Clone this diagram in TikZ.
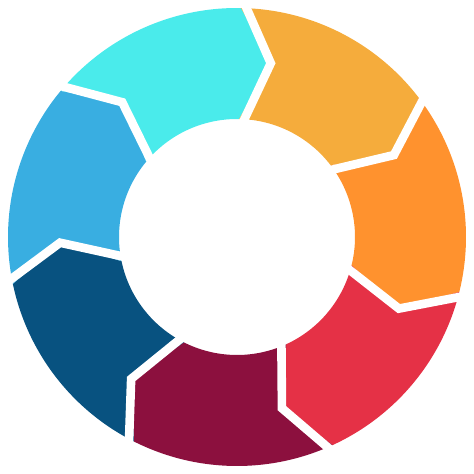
\documentclass[tikz,border=0pt]{standalone}
\usepackage{tikz}
\definecolor{cyanseg}{HTML}{4AEBEB}
\definecolor{yellowseg}{HTML}{F5AC3C}
\definecolor{orangeseg}{HTML}{FF922E}
\definecolor{redseg}{HTML}{E53146}
\definecolor{maroonseg}{HTML}{8C103E}
\definecolor{navyseg}{HTML}{085280}
\definecolor{blueseg}{HTML}{39AEE1}
\tikzset{gap/.style={draw=white,line width=4.9pt,line join=miter,miter limit=10}}
\def\ringout{229}
\def\ringin{118}
\def\ringmid{177}
\def\tipshift{10}

\begin{document}
\begin{tikzpicture}[scale=0.02]
    \useasboundingbox (-237,-237) rectangle (237,237);

    \foreach \c [count=\i] in {cyanseg,yellowseg,orangeseg,redseg,maroonseg,navyseg,blueseg}{%
          \pgfmathsetmacro{\s}{140.4-51.43*(\i-1)}
          \pgfmathsetmacro{\e}{\s-51.43}
          \fill[\c] (\s:\ringout) arc[start angle=\s, end angle=\e, radius=\ringout]
              -- ({\e-\tipshift}:\ringmid) -- (\e:\ringin)
              arc[start angle=\e, end angle=\s, radius=\ringin]
              -- ({\s-\tipshift}:\ringmid) -- cycle;
		}

    % gaps between the arrows
    \foreach \i in {1,...,7}{%
          \pgfmathsetmacro{\b}{89-51.43*(\i-1)}
          \coordinate (o\i) at (\b:{\ringout+12});
          \coordinate (m\i) at ({\b-\tipshift}:\ringmid);
          \coordinate (n\i) at (\b:{\ringin-12});
          \draw[gap] (o\i) -- (m\i) -- (n\i);
		}
    \end{tikzpicture}
\end{document}
